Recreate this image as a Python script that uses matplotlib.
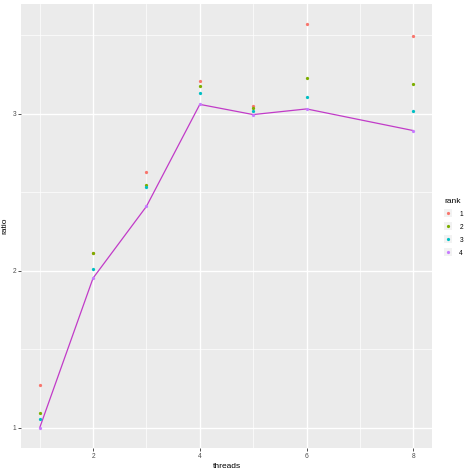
import matplotlib
matplotlib.use("Agg")
import matplotlib.pyplot as plt
from matplotlib.lines import Line2D
from matplotlib.patches import Rectangle
from matplotlib.legend_handler import HandlerBase

plt.rcParams['font.family'] = ['Liberation Sans', 'DejaVu Sans']

threads = [1, 2, 3, 4, 5, 6, 8]
ranks = ['1', '2', '3', '4']
ratio = {
    '1': [1.274, 2.112, 2.633, 3.211, 3.050, 3.572, 3.494],
    '2': [1.097, 2.114, 2.549, 3.179, 3.040, 3.232, 3.194],
    '3': [1.059, 2.011, 2.532, 3.133, 3.016, 3.110, 3.021],
    '4': [1.000, 1.954, 2.411, 3.061, 2.996, 3.032, 2.894],
}
colors = {'1': '#F8766D', '2': '#7CAE00', '3': '#00BFC4', '4': '#C77CFF'}
line_rank = '4'
line_color = '#C13BC8'

fig = plt.figure(figsize=(4.74, 4.74), dpi=100)
ax = fig.add_axes([21/474, 1-448/474, (432-21)/474, (448-4)/474])
ax.set_facecolor('#EBEBEB')
for s in ax.spines.values():
    s.set_visible(False)

ax.plot(threads, ratio[line_rank], color=line_color, lw=0.9, zorder=3)
for r in ranks:
    ax.scatter(threads, ratio[r], s=5.5, color=colors[r], zorder=4, linewidths=0)

xmin, xmax = min(threads), max(threads)
allv = [v for r in ranks for v in ratio[r]]
ymin, ymax = min(allv), max(allv)
ax.set_xlim(xmin - 0.05*(xmax-xmin), xmax + 0.05*(xmax-xmin))
ax.set_ylim(ymin - 0.05*(ymax-ymin), ymax + 0.05*(ymax-ymin))

ax.set_xticks([2, 4, 6, 8])
ax.set_xticks([1, 3, 5, 7], minor=True)
ax.set_yticks([1, 2, 3])
ax.set_yticks([1.5, 2.5, 3.5], minor=True)
ax.grid(True, which='major', color='white', lw=1.0)
ax.grid(True, which='minor', color='white', lw=0.5)
ax.set_axisbelow(True)
ax.tick_params(which='major', length=2, width=0.6, color='#333333',
               labelsize=4.8, labelcolor='#4D4D4D', pad=1.5)
ax.tick_params(which='minor', length=0)

ax.set_xlabel('threads', fontsize=6, labelpad=2)
ax.set_ylabel('ratio', fontsize=6)
ax.yaxis.set_label_coords(-13/411, 0.5)


class KeyHandler(HandlerBase):
    def create_artists(self, legend, orig_handle, xdescent, ydescent,
                       width, height, fontsize, trans):
        side = height * 1.7
        cx = width / 2 - xdescent
        cy = height / 2 - ydescent
        bg = Rectangle((cx - side/2, cy - side/2), side, side,
                       facecolor='#F2F2F2', edgecolor='none', transform=trans)
        m = Line2D([cx], [cy], marker='o', ls='', markersize=2.3,
                   color=orig_handle.get_color(), markeredgewidth=0,
                   transform=trans)
        return [bg, m]


handles = [Line2D([], [], marker='o', ls='', color=colors[r]) for r in ranks]
leg = fig.legend(handles, ranks, title='rank', loc='center left',
                 bbox_to_anchor=(440/474, 1-227/474), frameon=False,
                 fontsize=4.8, title_fontsize=6, handlelength=1.1,
                 handletextpad=1.1, labelspacing=0.9, borderpad=0.2,
                 handler_map={Line2D: KeyHandler()})
leg._legend_box.align = 'left'

fig.savefig('out.png', dpi=100)
